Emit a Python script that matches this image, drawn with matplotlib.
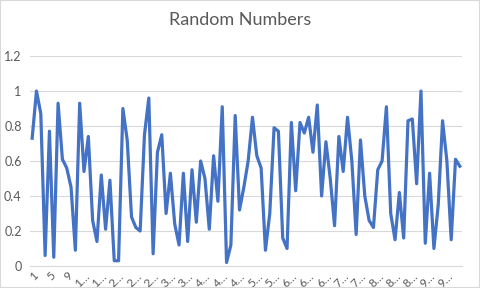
import matplotlib
matplotlib.use('Agg')
import matplotlib.pyplot as plt
from matplotlib.patches import Rectangle

# values, 100 points
values = [0.73, 1.00, 0.87, 0.06, 0.77, 0.05, 0.93, 0.61, 0.56, 0.45,
          0.09, 0.93, 0.54, 0.74, 0.26, 0.14, 0.52, 0.21, 0.49, 0.03,
          0.03, 0.90, 0.72, 0.28, 0.22, 0.20, 0.75, 0.96, 0.07, 0.65,
          0.75, 0.30, 0.53, 0.24, 0.12, 0.53, 0.14, 0.55, 0.25, 0.60,
          0.50, 0.21, 0.63, 0.37, 0.91, 0.02, 0.12, 0.86, 0.32, 0.45,
          0.60, 0.85, 0.63, 0.56, 0.09, 0.30, 0.79, 0.77, 0.16, 0.10,
          0.82, 0.43, 0.82, 0.76, 0.85, 0.65, 0.92, 0.40, 0.71, 0.50,
          0.23, 0.74, 0.54, 0.85, 0.60, 0.18, 0.72, 0.40, 0.26, 0.22,
          0.55, 0.60, 0.91, 0.30, 0.15, 0.42, 0.16, 0.83, 0.84, 0.47,
          1.00, 0.13, 0.53, 0.10, 0.35, 0.83, 0.60, 0.15, 0.61, 0.57]
categories = list(range(1, len(values) + 1))
tick_cats = categories[::4]
tick_labels = [str(c) if c < 10 else str(c)[0] + '\u2026' for c in tick_cats]
y_ticks = [0, 0.2, 0.4, 0.6, 0.8, 1.0, 1.2]
y_labels = ['0', '0.2', '0.4', '0.6', '0.8', '1', '1.2']

plt.rcParams['font.family'] = ['Lato', 'DejaVu Sans']
grey = '#595959'

fig = plt.figure(figsize=(4.8, 2.88), dpi=100)
ax = fig.add_axes([0.0625, 0.0764, 0.9, 0.7292])

ax.plot(categories, values, color='#4472C4', linewidth=2.3, solid_joinstyle='round')

ax.set_xlim(0.5, len(values) + 0.5)
ax.set_ylim(0, 1.2)
ax.set_yticks(y_ticks)
ax.set_yticklabels(y_labels, color=grey, fontsize=9)
ax.set_xticks(tick_cats)
ax.set_xticklabels(tick_labels, color=grey, fontsize=8.5, rotation=45,
                   ha='right', rotation_mode='anchor')
ax.tick_params(axis='y', length=0, pad=6)
ax.tick_params(axis='x', length=0, pad=3)
ax.grid(axis='y', color='#D9D9D9', linewidth=0.8)
ax.set_axisbelow(True)
for s in ['top', 'right', 'left']:
    ax.spines[s].set_visible(False)
ax.spines['bottom'].set_color('#D9D9D9')

fig.text(0.5, 0.93, 'Random Numbers', ha='center', va='center', fontsize=13, color=grey)
fig.patches.append(Rectangle((0, 0), 1, 1, transform=fig.transFigure, fill=False,
                             edgecolor='#D9D9D9', linewidth=1.5))

fig.savefig('out.png', dpi=100)
